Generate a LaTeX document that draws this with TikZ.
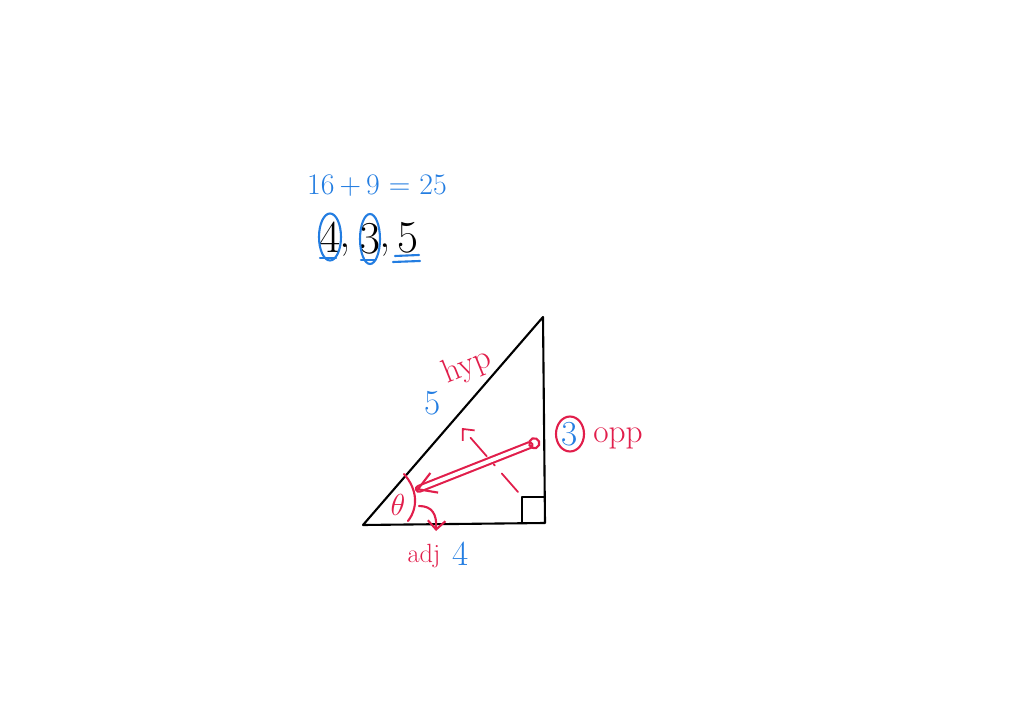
\documentclass[tikz,border=0pt]{standalone}
\usepackage{amsmath}
\usepackage{tikz}
\usetikzlibrary{arrows.meta}

\definecolor{blueink}{RGB}{35,125,225}
\definecolor{redink}{RGB}{225,30,75}

\begin{document}
\begin{tikzpicture}[x=0.02cm, y=-0.02cm,
      pen/.style ={line width=1.2pt, line cap=round, line join=round},
      bluepen/.style ={pen, draw=blueink},
      redpen/.style ={pen, draw=redink},
      bluetext/.style ={text=blueink, inner sep=0pt},
      redtext/.style ={text=redink, inner sep=0pt}]

   \useasboundingbox (0,0) rectangle (1024,712);

   % triangle
   \coordinate (A) at (363,525);
   \coordinate (B) at (543,317);
   \coordinate (C) at (545,523);
   \draw[pen] (A) -- (B) -- (C) -- cycle;
   \draw[pen] (522,523) -- (522,497) -- (545,497);

   % pythagoras
   \node[bluetext] (sum)  at (377,186)  {\fontsize{17}{20}\selectfont 16\,+\,9 = 25};
   \node[inner sep=0pt] (four)  at (330,237)  {\fontsize{26}{30}\selectfont 4};
   \node[inner sep=0pt] (comA)  at (345,250)  {\fontsize{26}{30}\selectfont ,};
   \node[inner sep=0pt] (three)  at (370,239)  {\fontsize{26}{30}\selectfont 3};
   \node[inner sep=0pt] (comB)  at (385,250)  {\fontsize{26}{30}\selectfont ,};
   \node[inner sep=0pt] (five)  at (408,238)  {\fontsize{26}{30}\selectfont 5};

   \draw[bluepen] (four) ellipse [x radius=0.22cm, y radius=0.47cm];
   \draw[bluepen] (three) ellipse [x radius=0.2cm, y radius=0.5cm];
   \draw[bluepen] (320,258) -- (336,258);
   \draw[bluepen] (361,260) -- (375,260);
   \draw[bluepen] (395,256) -- (419,255);
   \draw[bluepen] (393,262) -- (420,261);

   % labels
   \node[redtext, rotate=22] (hyp)  at (467,367)  {\fontsize{19}{22}\selectfont hyp};
   \node[bluetext] (hypval)  at (433,403)  {\fontsize{20}{24}\selectfont 5};
   \node[bluetext] (oppval)  at (570,434)  {\fontsize{20}{24}\selectfont 3};
   \node[redtext] (opp)  at (618,438)  {\fontsize{19}{22}\selectfont opp};
   \node[redtext] (theta)  at (398,505)  {\fontsize{18}{22}\selectfont $\theta$};
   \node[redtext] (adj)  at (424,556)  {\fontsize{15}{18}\selectfont adj};
   \node[bluetext] (adjval)  at (461,554)  {\fontsize{20}{24}\selectfont 4};

   \draw[redpen] (oppval) ellipse [x radius=0.28cm, y radius=0.35cm];

   % angle arc
   \draw[redpen] (404,474) .. controls (418,490) and (418,508) .. (408,521);

   % double arrow
   \coordinate (tipL) at (416,490);
   \coordinate (tipR) at (540,441);
   \draw[redpen, double=white, double distance=2.2pt, {Straight Barb[length=10pt,width=12pt]}-{Circle[open,length=7pt]}] (tipL) -- (tipR);

   % dash dot
   \coordinate (perpA) at (518,492);
   \coordinate (perpB) at (462,428);
   \draw[redpen, line width=1pt, dash pattern=on 14pt off 6pt on 1pt off 6pt, -{Straight Barb[length=5pt,width=9pt]}] (perpA) -- (perpB);

   % small curved arrow
   \coordinate (curlA) at (419,506);
   \coordinate (curlB) at (436,531);
   \draw[redpen, -{Straight Barb[length=5pt,width=10pt]}] (curlA) .. controls (432,506) and (437,514) .. (curlB);
 \end{tikzpicture}
\end{document}
